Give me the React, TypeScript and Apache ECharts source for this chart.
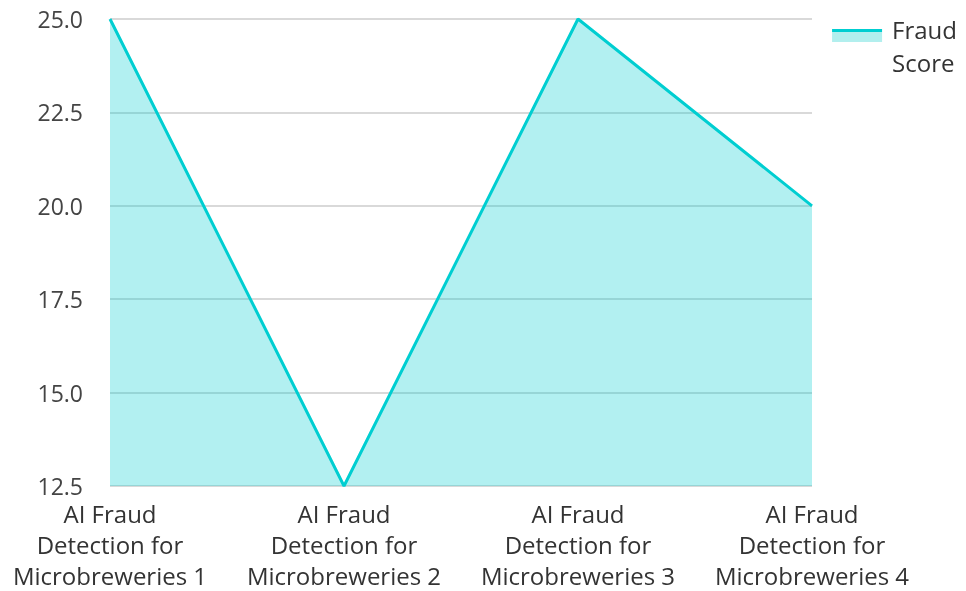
import React, { useEffect, useRef } from "react";
import * as echarts from "echarts";

const categories = [
  "AI Fraud Detection for Microbreweries 1",
  "AI Fraud Detection for Microbreweries 2",
  "AI Fraud Detection for Microbreweries 3",
  "AI Fraud Detection for Microbreweries 4",
];
const fraudScore = [25, 12.5, 25, 20];
const seriesName = "Fraud Score";

const FONT = "'Open Sans', 'Noto Sans', sans-serif";
const LINE = "#00CED1";

export default function App() {
  const ref = useRef<HTMLDivElement>(null);
  useEffect(() => {
    document.body.style.margin = "0";
    document.body.style.overflow = "hidden";
    const chart = echarts.init(ref.current!, null, { renderer: "svg" });
    chart.setOption({
      animation: false,
      textStyle: { fontFamily: FONT },
      grid: { left: 110, right: 154, top: 19, bottom: 98, containLabel: false },
      legend: [
        {
          data: [seriesName],
          right: 4,
          top: 8,
          icon: "path://M0,0 M0,16h50v3h-50z M0,66",
          itemWidth: 50,
          itemHeight: 66,
          itemGap: 0,
          itemStyle: { color: LINE },
          formatter: (n: string) => n.replace(" ", "\n"),
          textStyle: { fontSize: 24, lineHeight: 33, color: "#333", fontFamily: FONT, padding: [0, 0, 0, 5] },
          selectedMode: false,
        },
        {
          data: [seriesName],
          right: 4,
          top: 8,
          icon: "path://M0,0 M0,19h50v10h-50z M0,66",
          itemWidth: 50,
          itemHeight: 66,
          itemGap: 0,
          itemStyle: { color: "#b2efee" },
          formatter: (n: string) => n.replace(" ", "\n"),
          textStyle: { fontSize: 24, lineHeight: 33, color: "rgba(0,0,0,0)", fontFamily: FONT, padding: [0, 0, 0, 5] },
          selectedMode: false,
        },
      ],
      xAxis: {
        type: "category",
        data: categories,
        boundaryGap: false,
        axisLine: { show: false },
        axisTick: { show: false },
        axisLabel: {
          interval: 0,
          margin: 12,
          fontSize: 24,
          lineHeight: 31,
          color: "#333",
          fontFamily: FONT,
          formatter: (v: string) => v.replace(" Detection for ", "\nDetection for\n"),
        },
      },
      yAxis: {
        type: "value",
        min: 12.5,
        max: 25,
        interval: 2.5,
        axisLine: { show: false },
        axisTick: { show: false },
        splitLine: { lineStyle: { color: "#cccccc", width: 1.5 } },
        axisLabel: {
          margin: 27,
          fontSize: 23,
          color: "#444",
          fontFamily: FONT,
          formatter: (v: number) => v.toFixed(1),
        },
      },
      series: [
        {
          name: seriesName,
          type: "line",
          data: fraudScore,
          symbol: "none",
          lineStyle: { color: LINE, width: 3 },
          itemStyle: { color: LINE },
          areaStyle: { color: LINE, opacity: 0.3 },
        },
      ],
    });
    return () => chart.dispose();
  }, []);
  return <div ref={ref} style={{ position: "fixed", left: 0, top: 0, width: "100vw", height: "100vh" }} />;
}
